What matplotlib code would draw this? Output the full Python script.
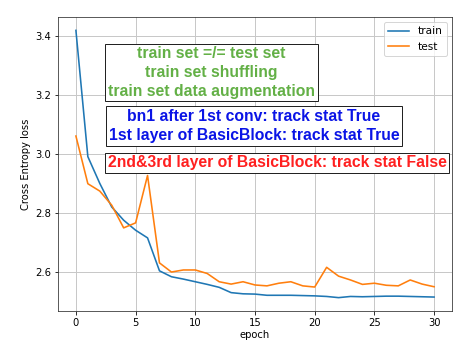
import matplotlib
matplotlib.use("Agg")
import matplotlib.pyplot as plt

epochs = list(range(31))
train = [3.420, 2.991, 2.900, 2.820, 2.775, 2.741, 2.715, 2.603, 2.583, 2.575,
         2.566, 2.557, 2.547, 2.529, 2.525, 2.524, 2.520, 2.520, 2.520, 2.519,
         2.518, 2.516, 2.512, 2.516, 2.515, 2.516, 2.517, 2.517, 2.516, 2.515,
         2.514]
test = [3.061, 2.899, 2.874, 2.826, 2.749, 2.766, 2.927, 2.630, 2.599, 2.606,
        2.606, 2.594, 2.566, 2.558, 2.566, 2.555, 2.552, 2.561, 2.566, 2.552,
        2.548, 2.615, 2.585, 2.572, 2.557, 2.561, 2.554, 2.552, 2.572, 2.558,
        2.549]

box1 = "train set =/= test set\ntrain set shuffling\ntrain set data augmentation"
box2 = "bn1 after 1st conv: track stat True\n1st layer of BasicBlock: track stat True"
box3 = "2nd&3rd layer of BasicBlock: track stat False"

fig = plt.figure(figsize=(474/72, 347/72), dpi=72)
ax = fig.add_axes([58/474, 1-311/347, (452-58)/474, (311-17)/347])
ax.plot(epochs, train, label="train", color="#1f77b4", linewidth=1.6)
ax.plot(epochs, test, label="test", color="#ff7f0e", linewidth=1.6)
ax.grid(True, color="#c8c8c8", linewidth=1.0)
for s in ax.spines.values():
    s.set_color("#333333")
ax.set_xlabel("epoch", labelpad=2)
ax.set_ylabel("Cross Entropy loss")
ax.legend(loc="upper right", fontsize=10.5)

bb = dict(boxstyle="square,pad=0.18", facecolor="white", edgecolor="#222222", linewidth=1.0)
font = ["Liberation Sans", "DejaVu Sans"]
fs = 15.8
ax.text((211.5-58)/394, 1-(72.5-17)/294, box1, transform=ax.transAxes, ha="center", va="center",
        multialignment="center", color="#63b046", fontsize=fs, fontweight="bold",
        family=font, bbox=bb, linespacing=1.3)
ax.text((254-58)/394, 1-(126-17)/294, box2, transform=ax.transAxes, ha="center", va="center",
        multialignment="center", color="#0a14e6", fontsize=fs, fontweight="bold",
        family=font, bbox=bb, linespacing=1.3)
ax.text((277-58)/394, 1-(163-17)/294, box3, transform=ax.transAxes, ha="center", va="center",
        multialignment="center", color="#ff2020", fontsize=fs, fontweight="bold",
        family=font, bbox=bb, linespacing=1.3)

fig.savefig("out.png", dpi=72)
